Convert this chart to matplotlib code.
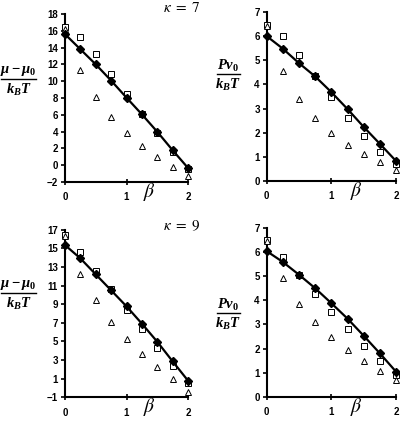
import matplotlib
matplotlib.use("Agg")
import matplotlib.pyplot as plt
from matplotlib.lines import Line2D

plt.rcParams['mathtext.fontset'] = 'custom'
plt.rcParams['mathtext.it'] = 'Liberation Serif:bold:italic'
plt.rcParams['mathtext.rm'] = 'Liberation Serif:bold'
plt.rcParams['mathtext.bf'] = 'Liberation Serif:bold'

beta = [0, 0.25, 0.5, 0.75, 1.0, 1.25, 1.5, 1.75, 2.0]

# kappa = 7, chemical potential
mu7_theory = [15.6, 13.8, 12.0, 10.07, 8.04, 6.05, 3.98, 1.78, -0.33]
mu7_sq = [16.5, 15.25, 13.2, 10.87, 8.44, 6.05, 3.78, 1.6, -0.4]
mu7_tri = [16.2, 11.35, 8.16, 5.69, 3.86, 2.34, 0.99, -0.2, -1.28]

# kappa = 7, pressure
p7_theory = [6.0, 5.48, 4.88, 4.33, 3.68, 2.98, 2.24, 1.54, 0.83]
p7_sq = [6.47, 5.99, 5.23, 4.36, 3.46, 2.62, 1.87, 1.2, 0.69]
p7_tri = [6.4, 4.54, 3.39, 2.59, 1.98, 1.5, 1.12, 0.79, 0.46]

# kappa = 9, chemical potential
mu9_theory = [15.35, 13.92, 12.2, 10.49, 8.77, 6.91, 4.97, 2.86, 0.79]
mu9_sq = [16.46, 14.57, 12.6, 10.6, 8.34, 6.33, 4.29, 2.33, 0.5]
mu9_tri = [16.3, 12.24, 9.41, 7.12, 5.26, 3.65, 2.29, 0.97, -0.39]

# kappa = 9, pressure
p9_theory = [6.04, 5.59, 5.06, 4.5, 3.88, 3.24, 2.53, 1.8, 1.04]
p9_sq = [6.49, 5.79, 5.06, 4.27, 3.51, 2.8, 2.09, 1.48, 0.9]
p9_tri = [6.45, 4.94, 3.86, 3.08, 2.46, 1.94, 1.49, 1.06, 0.69]

mu_ticks7 = list(range(-2, 19, 2))
mu_ticks9 = list(range(-1, 18, 2))
p_ticks = list(range(0, 8))
x_ticks = [0, 1, 2]

mu_num = r'$\mu - \mu_0$'
p_num = r'$Pv_0$'
den = r'$k_BT$'

W, H = 400, 428
fig = plt.figure(figsize=(4.0, 4.28), dpi=100)

panels = [
    ([0.1625, 0.5748, 0.3075, 0.3925], mu7_theory, mu7_sq, mu7_tri, mu_ticks7),
    ([0.6667, 0.5771, 0.3233, 0.3949], p7_theory, p7_sq, p7_tri, p_ticks),
    ([0.1625, 0.0717, 0.3075, 0.3916], mu9_theory, mu9_sq, mu9_tri, mu_ticks9),
    ([0.6667, 0.0731, 0.3233, 0.3942], p9_theory, p9_sq, p9_tri, p_ticks),
]

for rect, th, sq, tri, yt in panels:
    ax = fig.add_axes(rect)
    ax.plot(beta, sq, linestyle='none', marker='s', markersize=4.2,
            markerfacecolor='white', markeredgecolor='black', markeredgewidth=0.7,
            clip_on=False, zorder=3)
    ax.plot(beta, tri, linestyle='none', marker='^', markersize=4.5,
            markerfacecolor='white', markeredgecolor='black', markeredgewidth=0.7,
            clip_on=False, zorder=3)
    ax.plot(beta, th, color='black', linewidth=1.6, marker='D', markersize=4.5,
            markerfacecolor='black', markeredgecolor='black',
            clip_on=False, zorder=4)
    ax.set_xlim(0, 2)
    ax.set_ylim(yt[0], yt[-1])
    ax.set_xticks(x_ticks)
    ax.set_yticks(yt)
    ax.spines['top'].set_visible(False)
    ax.spines['right'].set_visible(False)
    ax.spines['left'].set_linewidth(1.5)
    ax.spines['bottom'].set_linewidth(1.5)
    ax.tick_params(axis='y', direction='out', length=3, width=1.2, pad=2,
                   labelsize=7)
    ax.tick_params(axis='x', direction='inout', length=5, width=1.2, pad=5,
                   labelsize=7)
    for lab in ax.get_xticklabels() + ax.get_yticklabels():
        lab.set_fontweight('bold')
        lab.set_family('Liberation Sans')
    ax.set_facecolor('none')
    ax.text(0.69, -0.06, r'$\beta$', transform=ax.transAxes, fontsize=14,
            ha='center', va='center', math_fontfamily='stix')


def frac(xc, yline, x0, x1, num):
    fig.text(xc / W, 1 - (yline - 8) / H, num, fontsize=10.5, ha='center',
             va='center')
    fig.text(xc / W, 1 - (yline + 11) / H, den, fontsize=10.5, ha='center',
             va='center')
    fig.add_artist(Line2D([x0 / W, x1 / W], [1 - yline / H, 1 - yline / H],
                          color='black', linewidth=1.0,
                          transform=fig.transFigure))


frac(18.5, 79, 1, 36, mu_num)
frac(228, 74, 217, 240, p_num)
frac(18.5, 293, 1, 36, mu_num)
frac(228, 313, 217, 240, p_num)

# kappa annotations
fig.text(182 / W, 1 - 8 / H, r'$\kappa\ =\ 7$', fontsize=11, ha='center',
         va='center', math_fontfamily='stix')
fig.text(182 / W, 1 - 226 / H, r'$\kappa\ =\ 9$', fontsize=11, ha='center',
         va='center', math_fontfamily='stix')

fig.savefig('out.png', dpi=100)
